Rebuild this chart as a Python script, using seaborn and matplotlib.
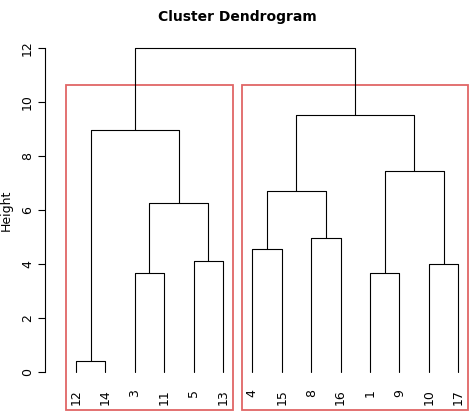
import matplotlib
matplotlib.use("Agg")
import matplotlib.pyplot as plt
import seaborn as sns
from matplotlib.patches import Rectangle

sns.set_style("white")
plt.rcParams['font.family'] = ['DejaVu Sans']
for k in ["text.color", "axes.labelcolor", "xtick.color", "ytick.color", "axes.edgecolor"]:
    plt.rcParams[k] = "black"

leaf_labels = ["12", "14", "3", "11", "5", "13", "4", "15", "8", "16", "1", "9", "10", "17"]
# merges: (left node, right node, height); leaves are "L<i>", clusters are "C<k>"
merge_left = ["L0", "L2", "L4", "C1", "C0", "L6", "L8", "C5", "L10", "L12", "C8", "C7", "C4"]
merge_right = ["L1", "L3", "L5", "C2", "C3", "L7", "L9", "C6", "L11", "L13", "C9", "C10", "C11"]
merge_height = [0.4, 3.65, 4.1, 6.25, 8.95, 4.55, 4.95, 6.7, 3.65, 4.0, 7.45, 9.5, 12.0]
clusters_x = [(0, 5), (6, 13)]
cut_height = 10.63

fig = plt.figure(figsize=(4.74, 4.12), dpi=100)
ax = fig.add_axes([55/474, (412-385)/412, (470-55)/474, 350/412])

pos = {}
def node(n):
    if n[0] == "L":
        return float(n[1:]), 0.0
    return pos[n]

for k, (a, b, h) in enumerate(zip(merge_left, merge_right, merge_height)):
    xa, ya = node(a)
    xb, yb = node(b)
    ax.plot([xa, xa, xb, xb], [ya, h, h, yb], color="black", lw=0.8)
    pos["C%d" % k] = ((xa + xb) / 2, h)

for x0, x1 in clusters_x:
    r = Rectangle((x0 - 0.34, -1.41), (x1 - x0) + 0.68, cut_height + 1.41,
                  fill=False, edgecolor="#e06666", lw=1.3, clip_on=False)
    ax.add_patch(r)

ax.set_xlim(-0.71, 13.4)
ax.set_ylim(-0.48, 12.48)
for s in ["top", "right", "bottom"]:
    ax.spines[s].set_visible(False)
ax.spines["left"].set_bounds(0, 12)
ax.spines["left"].set_position(("outward", 7))
ax.spines["left"].set_linewidth(0.8)
ax.set_yticks(range(0, 13, 2))
ax.set_yticklabels([str(v) for v in range(0, 13, 2)], rotation=90, va="center", fontsize=9)
ax.tick_params(axis="y", length=5, width=0.8, left=True, pad=3)
ax.set_xticks(range(len(leaf_labels)))
ax.set_xticklabels(leaf_labels, rotation=90, fontsize=9)
ax.tick_params(axis="x", length=0, pad=3)
ax.set_ylabel("Height", fontsize=9, labelpad=6)
fig.text(0.5, 0.975, "Cluster Dendrogram", ha="center", va="top", fontsize=10, fontweight="bold")
fig.savefig("out.png", dpi=100)
